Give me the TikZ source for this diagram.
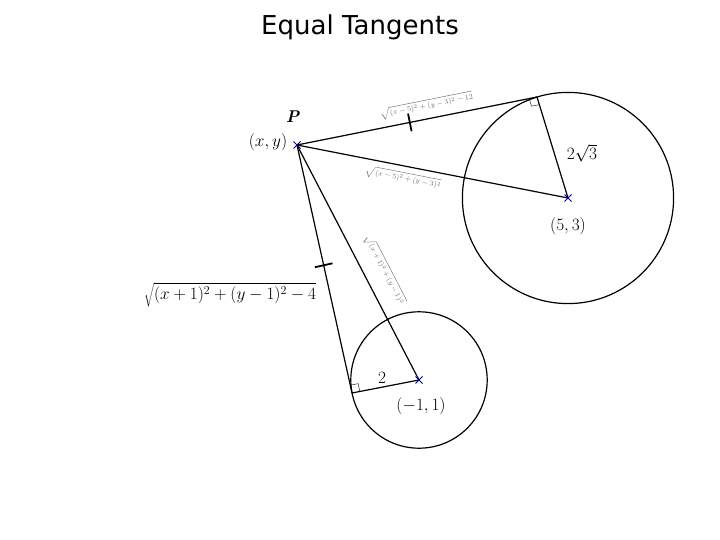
\documentclass[tikz,border=0pt]{standalone}
\usepackage{fontspec}
\newfontfamily\titlefont{DejaVu Sans}
\usetikzlibrary{calc}
\begin{document}
\begin{tikzpicture}[x=1pt,y=-1pt,
  ln/.style={line width=1.2pt},
  ctr/.style={blue!60!black,line width=1pt},
  faint/.style={font=\fontsize{7}{8}\selectfont,text=black!60},
  lab/.style={font=\fontsize{17}{19}\selectfont}]
\useasboundingbox (0,0) rectangle (720,540);
\node[font=\titlefont\fontsize{26}{30}\selectfont] (title) at (360,27) {Equal Tangents};
\coordinate (P) at (297,145);
\coordinate (C1) at (568,198);
\coordinate (T1) at (537,97);
\coordinate (C2) at (419,380);
\coordinate (T2) at (352,393);
\draw[ln] (C1) circle (105.6);
\draw[ln] (C2) circle (68.2);
\draw[ln] (P) -- (T1) node[pos=0.55,above=3pt,sloped,faint] {$\sqrt{(x-5)^2+(y-3)^2-12}$};
\draw[ln] (P) -- (C1) node[pos=0.4,below=2pt,sloped,faint] {$\sqrt{(x-5)^2+(y-3)^2}$};
\draw[ln] (P) -- (T2);
\draw[ln] (P) -- (C2) node[pos=0.57,above=10pt,sloped,faint] {$\sqrt{(x+1)^2+(y-1)^2}$};
\draw[ln] (T1) -- (C1);
\draw[ln] (T2) -- (C2);
% right angles
\draw[thin] ($(T1)!8pt!(P)$) -- ($($(T1)!8pt!(P)$)+($(T1)!8pt!(C1)$)-(T1)$) -- ($(T1)!8pt!(C1)$);
\draw[thin] ($(T2)!8pt!(P)$) -- ($($(T2)!8pt!(P)$)+($(T2)!8pt!(C2)$)-(T2)$) -- ($(T2)!8pt!(C2)$);
% ticks
\coordinate (M1) at ($(P)!0.47!(T1)$);
\draw[line width=1.8pt] ($(M1)!9pt!90:(T1)$) -- ($(M1)!9pt!-90:(T1)$);
\coordinate (M2) at ($(P)!0.485!(T2)$);
\draw[line width=1.8pt] ($(M2)!9pt!90:(T2)$) -- ($(M2)!9pt!-90:(T2)$);
% centres
\foreach \c in {P,C1,C2}{
 \draw[ctr] ($(\c)+(-3.5,-3.5)$) -- ($(\c)+(3.5,3.5)$);
 \draw[ctr] ($(\c)+(-3.5,3.5)$) -- ($(\c)+(3.5,-3.5)$);}
\node[lab] (Pl) at (293,117) {\textbf{\textit{P}}};
\node[lab] (xy) at (268,142) {$(x,y)$};
\node[lab] (r1) at (582,153) {$2\sqrt{3}$};
\node[lab] (c1l) at (568,226) {$(5,3)$};
\node[lab] (r2) at (382,378) {$2$};
\node[lab] (c2l) at (421,406) {$(-1,1)$};
\node[lab] (len) at (230,295) {$\sqrt{(x+1)^2+(y-1)^2-4}$};
\end{tikzpicture}
\end{document}
